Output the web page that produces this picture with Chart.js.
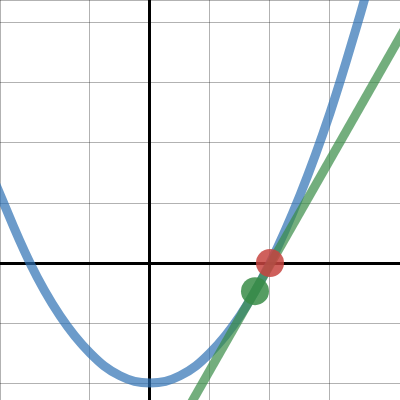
<!DOCTYPE html>
<html><head><script src="https://cdn.jsdelivr.net/npm/chart.js@4"></script>
<style>html,body{margin:0;padding:0;background:#fff}#w{width:400px;height:400px}</style></head>
<body><div id="w"><canvas id="c"></canvas></div>
<script>
const curveX = [-2.6,-2,-1.5,-1,-0.5,0,0.5,1,1.5,2,2.5,3,3.5,3.7];
const curveY = [1.38,0,-0.88,-1.5,-1.88,-2,-1.88,-1.5,-0.88,0,1.13,2.5,4.13,4.85];
const lineX = [0.5,4.3];
const lineY = [-2.66,4.0];
const redPt = [2,0];
const greenPt = [1.75,-0.47];
const xMin=-2.5, xMax=4.1667, yMin=-2.283, yMax=4.383;
const xy=(a,b)=>a.map((v,i)=>({x:v,y:b[i]}));
const gridOpt = {
  color: c => c.tick.value===0 ? '#000' : 'rgba(0,0,0,0.3)',
  lineWidth: c => c.tick.value===0 ? 3 : 1,
  drawTicks:false
};
new Chart(document.getElementById('c'),{
  type:'scatter',
  data:{datasets:[
    {data:xy(curveX,curveY),showLine:true,borderColor:'rgba(45,112,179,0.7)',borderWidth:9,pointRadius:0,tension:0.4,order:3},
    {data:xy(lineX,lineY),showLine:true,borderColor:'rgba(56,140,70,0.7)',borderWidth:9,pointRadius:0,order:2},
    {data:[{x:redPt[0],y:redPt[1]}],pointRadius:14,backgroundColor:'rgba(199,68,64,0.85)',borderWidth:0,order:1},
    {data:[{x:greenPt[0],y:greenPt[1]}],pointRadius:14,backgroundColor:'rgba(56,140,70,0.85)',borderWidth:0,order:0}
  ]},
  options:{responsive:true,maintainAspectRatio:false,animation:false,
    layout:{padding:0,autoPadding:false},
    plugins:{legend:{display:false},tooltip:{enabled:false}},
    scales:{
      x:{type:'linear',min:xMin,max:xMax,ticks:{display:false,stepSize:1,padding:0},grid:gridOpt,border:{display:false}},
      y:{type:'linear',min:yMin,max:yMax,ticks:{display:false,stepSize:1,padding:0},grid:gridOpt,border:{display:false}}
    }}
});
</script></body></html>
